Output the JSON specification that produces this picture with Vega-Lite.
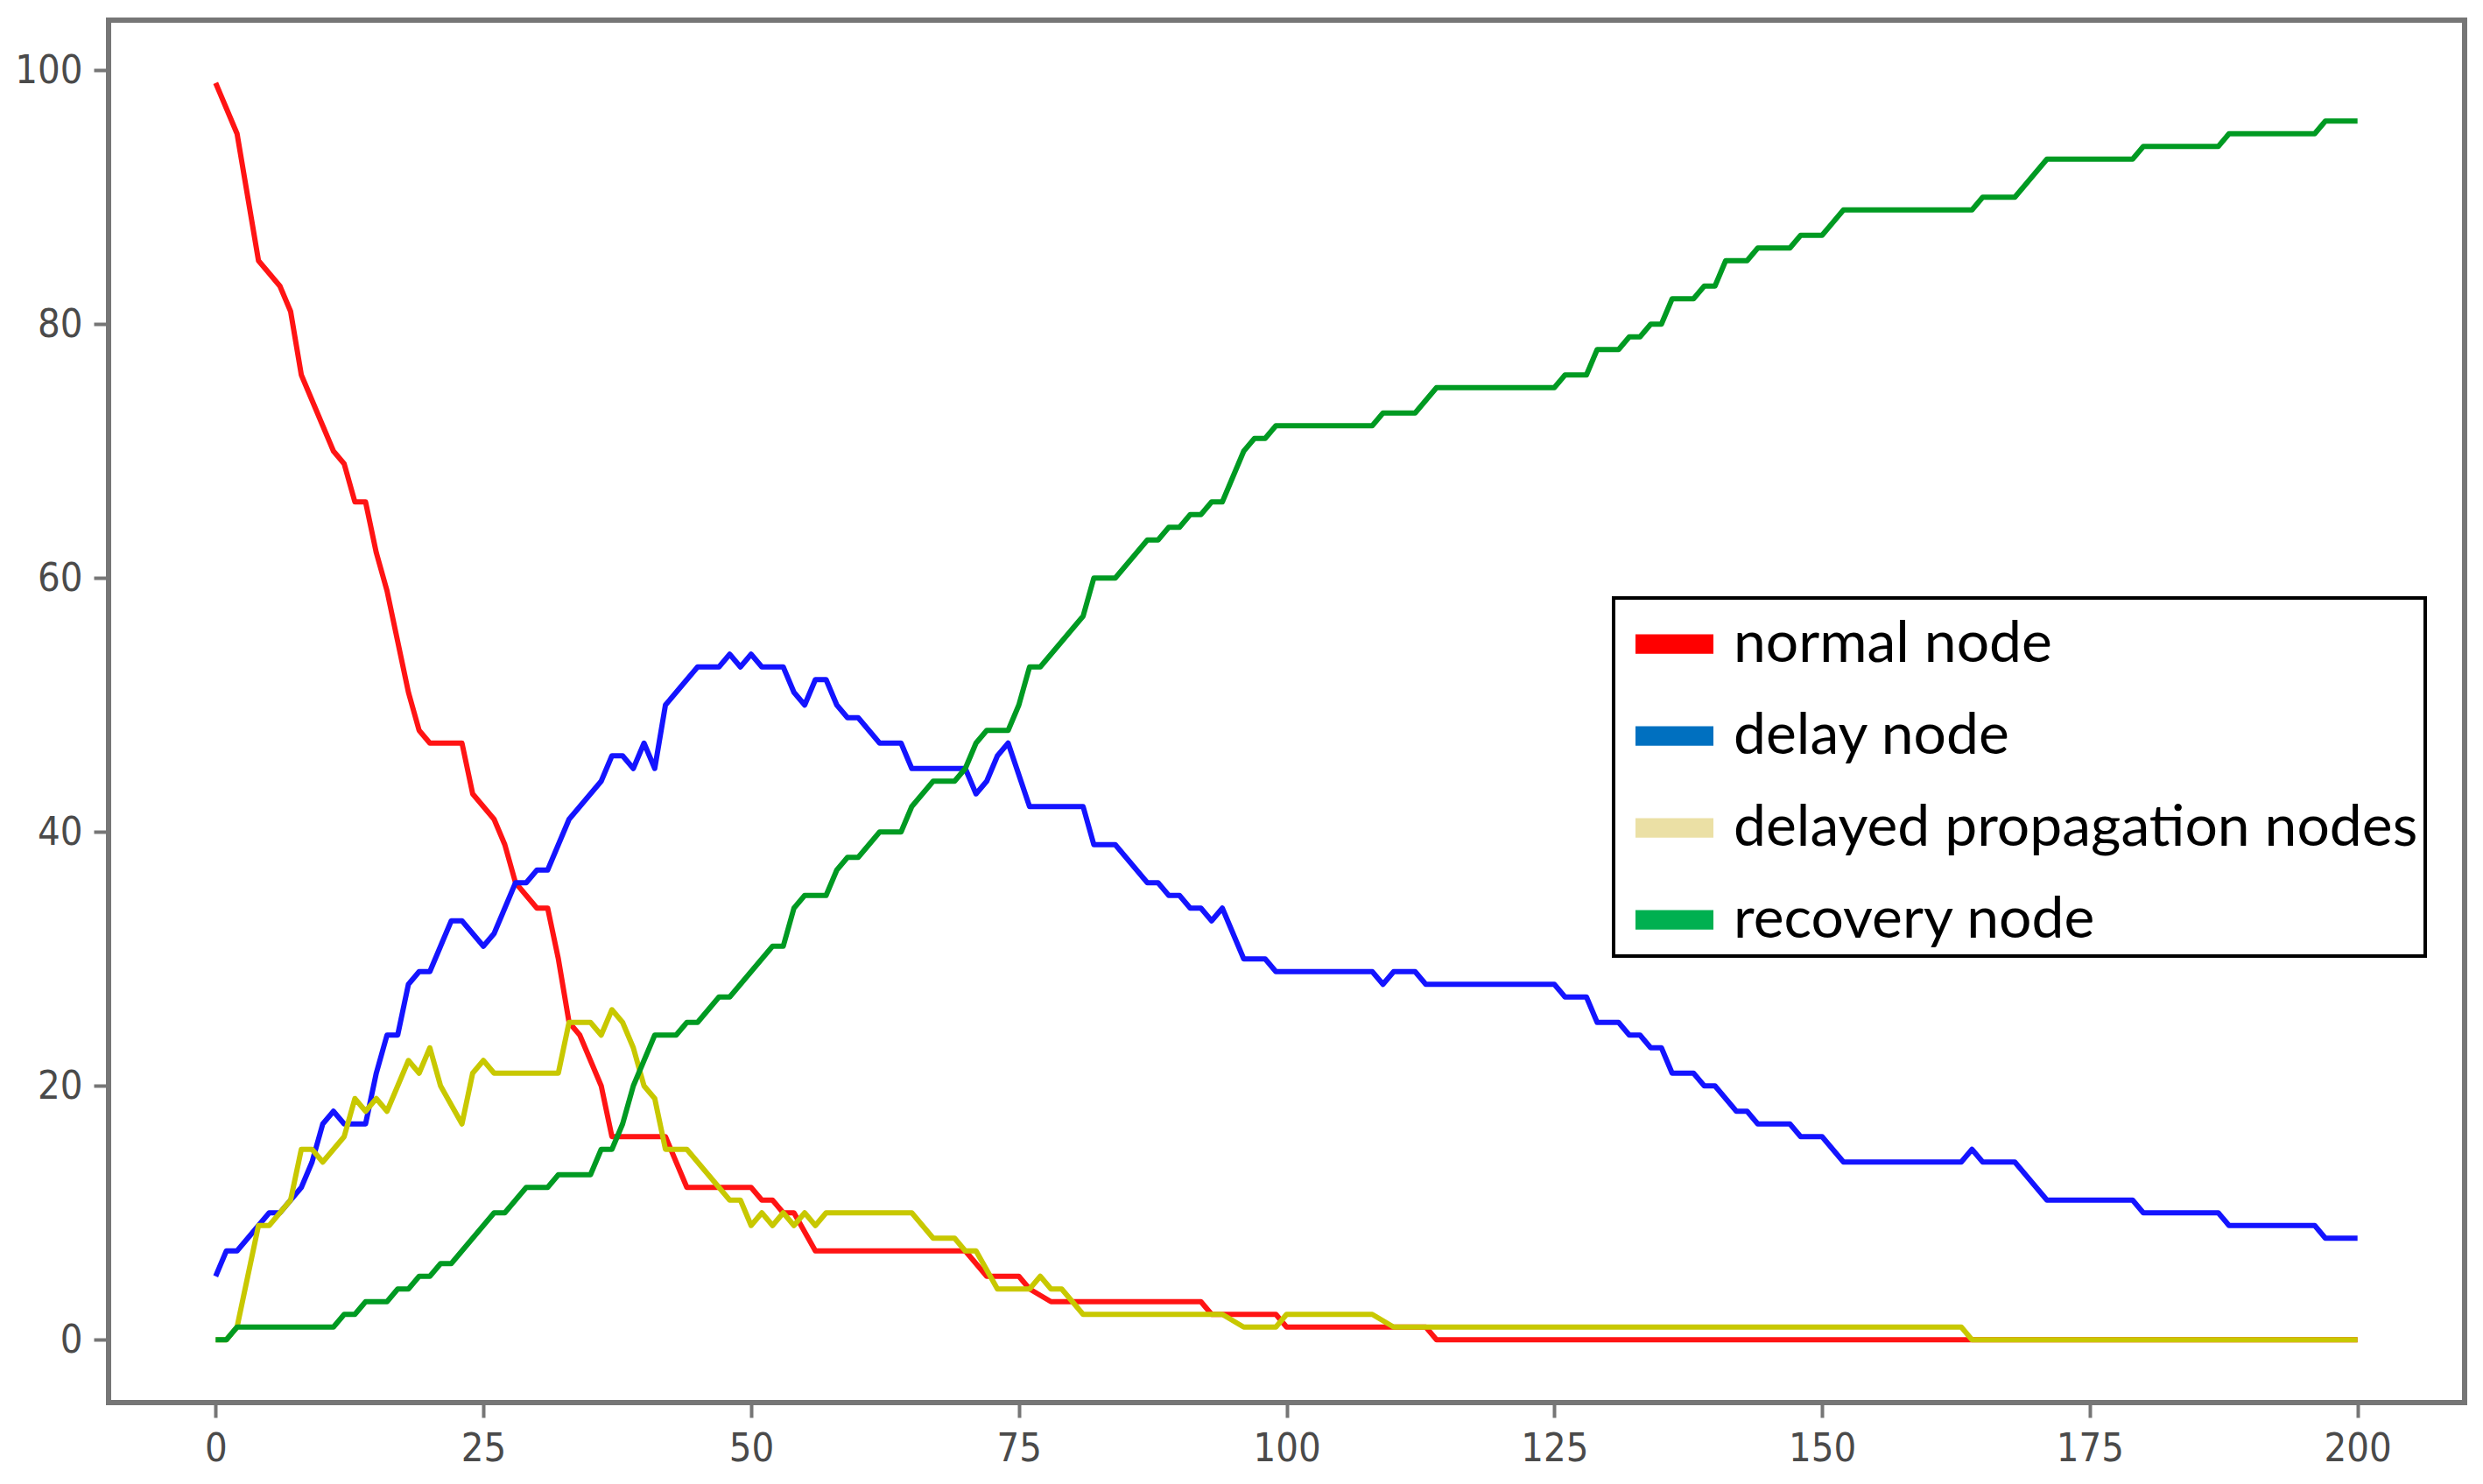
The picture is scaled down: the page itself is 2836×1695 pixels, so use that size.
{
  "$schema": "https://vega.github.io/schema/vega-lite/v6.json",
  "description": "Node states over time: normal, delay, delayed propagation and recovery nodes.",
  "width": 2691,
  "height": 1579,
  "autosize": {"type": "none"},
  "padding": {"left": 124, "top": 23, "right": 21, "bottom": 93},
  "background": "white",
  "config": {
    "view": {"stroke": "#767676", "strokeWidth": 6},
    "axis": {
      "domain": false,
      "grid": false,
      "title": null,
      "tickColor": "#767676",
      "tickWidth": 4,
      "tickSize": 17,
      "labelFont": "Liberation Sans Narrow, DejaVu Sans Condensed, Liberation Sans",
      "labelFontSize": 45,
      "labelColor": "#4a4a4a",
      "labelPadding": 13
    },
    "legend": {"strokeWidth": 4}
  },
  "data": {
    "values": [
      {"s": "normal node", "t": 0, "v": 99}, {"s": "normal node", "t": 1, "v": 97}, {"s": "normal node", "t": 2, "v": 95},
      {"s": "normal node", "t": 4, "v": 85}, {"s": "normal node", "t": 5, "v": 84}, {"s": "normal node", "t": 6, "v": 83},
      {"s": "normal node", "t": 7, "v": 81}, {"s": "normal node", "t": 8, "v": 76}, {"s": "normal node", "t": 9, "v": 74},
      {"s": "normal node", "t": 10, "v": 72}, {"s": "normal node", "t": 11, "v": 70}, {"s": "normal node", "t": 12, "v": 69},
      {"s": "normal node", "t": 13, "v": 66}, {"s": "normal node", "t": 14, "v": 66}, {"s": "normal node", "t": 15, "v": 62},
      {"s": "normal node", "t": 16, "v": 59}, {"s": "normal node", "t": 17, "v": 55}, {"s": "normal node", "t": 18, "v": 51},
      {"s": "normal node", "t": 19, "v": 48}, {"s": "normal node", "t": 20, "v": 47}, {"s": "normal node", "t": 23, "v": 47},
      {"s": "normal node", "t": 24, "v": 43}, {"s": "normal node", "t": 25, "v": 42}, {"s": "normal node", "t": 26, "v": 41},
      {"s": "normal node", "t": 27, "v": 39}, {"s": "normal node", "t": 28, "v": 36}, {"s": "normal node", "t": 29, "v": 35},
      {"s": "normal node", "t": 30, "v": 34}, {"s": "normal node", "t": 31, "v": 34}, {"s": "normal node", "t": 32, "v": 30},
      {"s": "normal node", "t": 33, "v": 25}, {"s": "normal node", "t": 34, "v": 24}, {"s": "normal node", "t": 35, "v": 22},
      {"s": "normal node", "t": 36, "v": 20}, {"s": "normal node", "t": 37, "v": 16}, {"s": "normal node", "t": 42, "v": 16},
      {"s": "normal node", "t": 43, "v": 14}, {"s": "normal node", "t": 44, "v": 12}, {"s": "normal node", "t": 50, "v": 12},
      {"s": "normal node", "t": 51, "v": 11}, {"s": "normal node", "t": 52, "v": 11}, {"s": "normal node", "t": 53, "v": 10},
      {"s": "normal node", "t": 54, "v": 10}, {"s": "normal node", "t": 56, "v": 7}, {"s": "normal node", "t": 70, "v": 7},
      {"s": "normal node", "t": 72, "v": 5}, {"s": "normal node", "t": 75, "v": 5}, {"s": "normal node", "t": 76, "v": 4},
      {"s": "normal node", "t": 78, "v": 3}, {"s": "normal node", "t": 92, "v": 3}, {"s": "normal node", "t": 93, "v": 2},
      {"s": "normal node", "t": 99, "v": 2}, {"s": "normal node", "t": 100, "v": 1}, {"s": "normal node", "t": 113, "v": 1},
      {"s": "normal node", "t": 114, "v": 0}, {"s": "normal node", "t": 200, "v": 0},

      {"s": "delay node", "t": 0, "v": 5}, {"s": "delay node", "t": 1, "v": 7}, {"s": "delay node", "t": 2, "v": 7},
      {"s": "delay node", "t": 3, "v": 8}, {"s": "delay node", "t": 4, "v": 9}, {"s": "delay node", "t": 5, "v": 10},
      {"s": "delay node", "t": 6, "v": 10}, {"s": "delay node", "t": 7, "v": 11}, {"s": "delay node", "t": 8, "v": 12},
      {"s": "delay node", "t": 9, "v": 14}, {"s": "delay node", "t": 10, "v": 17}, {"s": "delay node", "t": 11, "v": 18},
      {"s": "delay node", "t": 12, "v": 17}, {"s": "delay node", "t": 14, "v": 17}, {"s": "delay node", "t": 15, "v": 21},
      {"s": "delay node", "t": 16, "v": 24}, {"s": "delay node", "t": 17, "v": 24}, {"s": "delay node", "t": 18, "v": 28},
      {"s": "delay node", "t": 19, "v": 29}, {"s": "delay node", "t": 20, "v": 29}, {"s": "delay node", "t": 21, "v": 31},
      {"s": "delay node", "t": 22, "v": 33}, {"s": "delay node", "t": 23, "v": 33}, {"s": "delay node", "t": 24, "v": 32},
      {"s": "delay node", "t": 25, "v": 31}, {"s": "delay node", "t": 26, "v": 32}, {"s": "delay node", "t": 27, "v": 34},
      {"s": "delay node", "t": 28, "v": 36}, {"s": "delay node", "t": 29, "v": 36}, {"s": "delay node", "t": 30, "v": 37},
      {"s": "delay node", "t": 31, "v": 37}, {"s": "delay node", "t": 32, "v": 39}, {"s": "delay node", "t": 33, "v": 41},
      {"s": "delay node", "t": 34, "v": 42}, {"s": "delay node", "t": 35, "v": 43}, {"s": "delay node", "t": 36, "v": 44},
      {"s": "delay node", "t": 37, "v": 46}, {"s": "delay node", "t": 38, "v": 46}, {"s": "delay node", "t": 39, "v": 45},
      {"s": "delay node", "t": 40, "v": 47}, {"s": "delay node", "t": 41, "v": 45}, {"s": "delay node", "t": 42, "v": 50},
      {"s": "delay node", "t": 43, "v": 51}, {"s": "delay node", "t": 44, "v": 52}, {"s": "delay node", "t": 45, "v": 53},
      {"s": "delay node", "t": 47, "v": 53}, {"s": "delay node", "t": 48, "v": 54}, {"s": "delay node", "t": 49, "v": 53},
      {"s": "delay node", "t": 50, "v": 54}, {"s": "delay node", "t": 51, "v": 53}, {"s": "delay node", "t": 53, "v": 53},
      {"s": "delay node", "t": 54, "v": 51}, {"s": "delay node", "t": 55, "v": 50}, {"s": "delay node", "t": 56, "v": 52},
      {"s": "delay node", "t": 57, "v": 52}, {"s": "delay node", "t": 58, "v": 50}, {"s": "delay node", "t": 59, "v": 49},
      {"s": "delay node", "t": 60, "v": 49}, {"s": "delay node", "t": 61, "v": 48}, {"s": "delay node", "t": 62, "v": 47},
      {"s": "delay node", "t": 64, "v": 47}, {"s": "delay node", "t": 65, "v": 45}, {"s": "delay node", "t": 70, "v": 45},
      {"s": "delay node", "t": 71, "v": 43}, {"s": "delay node", "t": 72, "v": 44}, {"s": "delay node", "t": 73, "v": 46},
      {"s": "delay node", "t": 74, "v": 47}, {"s": "delay node", "t": 76, "v": 42}, {"s": "delay node", "t": 81, "v": 42},
      {"s": "delay node", "t": 82, "v": 39}, {"s": "delay node", "t": 84, "v": 39}, {"s": "delay node", "t": 85, "v": 38},
      {"s": "delay node", "t": 87, "v": 36}, {"s": "delay node", "t": 88, "v": 36}, {"s": "delay node", "t": 89, "v": 35},
      {"s": "delay node", "t": 90, "v": 35}, {"s": "delay node", "t": 91, "v": 34}, {"s": "delay node", "t": 92, "v": 34},
      {"s": "delay node", "t": 93, "v": 33}, {"s": "delay node", "t": 94, "v": 34}, {"s": "delay node", "t": 96, "v": 30},
      {"s": "delay node", "t": 98, "v": 30}, {"s": "delay node", "t": 99, "v": 29}, {"s": "delay node", "t": 108, "v": 29},
      {"s": "delay node", "t": 109, "v": 28}, {"s": "delay node", "t": 110, "v": 29}, {"s": "delay node", "t": 112, "v": 29},
      {"s": "delay node", "t": 113, "v": 28}, {"s": "delay node", "t": 125, "v": 28}, {"s": "delay node", "t": 126, "v": 27},
      {"s": "delay node", "t": 128, "v": 27}, {"s": "delay node", "t": 129, "v": 25}, {"s": "delay node", "t": 131, "v": 25},
      {"s": "delay node", "t": 132, "v": 24}, {"s": "delay node", "t": 133, "v": 24}, {"s": "delay node", "t": 134, "v": 23},
      {"s": "delay node", "t": 135, "v": 23}, {"s": "delay node", "t": 136, "v": 21}, {"s": "delay node", "t": 138, "v": 21},
      {"s": "delay node", "t": 139, "v": 20}, {"s": "delay node", "t": 140, "v": 20}, {"s": "delay node", "t": 142, "v": 18},
      {"s": "delay node", "t": 143, "v": 18}, {"s": "delay node", "t": 144, "v": 17}, {"s": "delay node", "t": 147, "v": 17},
      {"s": "delay node", "t": 148, "v": 16}, {"s": "delay node", "t": 150, "v": 16}, {"s": "delay node", "t": 152, "v": 14},
      {"s": "delay node", "t": 163, "v": 14}, {"s": "delay node", "t": 164, "v": 15}, {"s": "delay node", "t": 165, "v": 14},
      {"s": "delay node", "t": 168, "v": 14}, {"s": "delay node", "t": 171, "v": 11}, {"s": "delay node", "t": 179, "v": 11},
      {"s": "delay node", "t": 180, "v": 10}, {"s": "delay node", "t": 187, "v": 10}, {"s": "delay node", "t": 188, "v": 9},
      {"s": "delay node", "t": 196, "v": 9}, {"s": "delay node", "t": 197, "v": 8}, {"s": "delay node", "t": 200, "v": 8},

      {"s": "delayed propagation nodes", "t": 0, "v": 0}, {"s": "delayed propagation nodes", "t": 1, "v": 0},
      {"s": "delayed propagation nodes", "t": 2, "v": 1}, {"s": "delayed propagation nodes", "t": 4, "v": 9},
      {"s": "delayed propagation nodes", "t": 5, "v": 9}, {"s": "delayed propagation nodes", "t": 6, "v": 10},
      {"s": "delayed propagation nodes", "t": 7, "v": 11}, {"s": "delayed propagation nodes", "t": 8, "v": 15},
      {"s": "delayed propagation nodes", "t": 9, "v": 15}, {"s": "delayed propagation nodes", "t": 10, "v": 14},
      {"s": "delayed propagation nodes", "t": 11, "v": 15}, {"s": "delayed propagation nodes", "t": 12, "v": 16},
      {"s": "delayed propagation nodes", "t": 13, "v": 19}, {"s": "delayed propagation nodes", "t": 14, "v": 18},
      {"s": "delayed propagation nodes", "t": 15, "v": 19}, {"s": "delayed propagation nodes", "t": 16, "v": 18},
      {"s": "delayed propagation nodes", "t": 18, "v": 22}, {"s": "delayed propagation nodes", "t": 19, "v": 21},
      {"s": "delayed propagation nodes", "t": 20, "v": 23}, {"s": "delayed propagation nodes", "t": 21, "v": 20},
      {"s": "delayed propagation nodes", "t": 23, "v": 17}, {"s": "delayed propagation nodes", "t": 24, "v": 21},
      {"s": "delayed propagation nodes", "t": 25, "v": 22}, {"s": "delayed propagation nodes", "t": 26, "v": 21},
      {"s": "delayed propagation nodes", "t": 32, "v": 21}, {"s": "delayed propagation nodes", "t": 33, "v": 25},
      {"s": "delayed propagation nodes", "t": 35, "v": 25}, {"s": "delayed propagation nodes", "t": 36, "v": 24},
      {"s": "delayed propagation nodes", "t": 37, "v": 26}, {"s": "delayed propagation nodes", "t": 38, "v": 25},
      {"s": "delayed propagation nodes", "t": 39, "v": 23}, {"s": "delayed propagation nodes", "t": 40, "v": 20},
      {"s": "delayed propagation nodes", "t": 41, "v": 19}, {"s": "delayed propagation nodes", "t": 42, "v": 15},
      {"s": "delayed propagation nodes", "t": 44, "v": 15}, {"s": "delayed propagation nodes", "t": 45, "v": 14},
      {"s": "delayed propagation nodes", "t": 46, "v": 13}, {"s": "delayed propagation nodes", "t": 47, "v": 12},
      {"s": "delayed propagation nodes", "t": 48, "v": 11}, {"s": "delayed propagation nodes", "t": 49, "v": 11},
      {"s": "delayed propagation nodes", "t": 50, "v": 9}, {"s": "delayed propagation nodes", "t": 51, "v": 10},
      {"s": "delayed propagation nodes", "t": 52, "v": 9}, {"s": "delayed propagation nodes", "t": 53, "v": 10},
      {"s": "delayed propagation nodes", "t": 54, "v": 9}, {"s": "delayed propagation nodes", "t": 55, "v": 10},
      {"s": "delayed propagation nodes", "t": 56, "v": 9}, {"s": "delayed propagation nodes", "t": 57, "v": 10},
      {"s": "delayed propagation nodes", "t": 65, "v": 10}, {"s": "delayed propagation nodes", "t": 67, "v": 8},
      {"s": "delayed propagation nodes", "t": 69, "v": 8}, {"s": "delayed propagation nodes", "t": 70, "v": 7},
      {"s": "delayed propagation nodes", "t": 71, "v": 7}, {"s": "delayed propagation nodes", "t": 73, "v": 4},
      {"s": "delayed propagation nodes", "t": 76, "v": 4}, {"s": "delayed propagation nodes", "t": 77, "v": 5},
      {"s": "delayed propagation nodes", "t": 78, "v": 4}, {"s": "delayed propagation nodes", "t": 79, "v": 4},
      {"s": "delayed propagation nodes", "t": 81, "v": 2}, {"s": "delayed propagation nodes", "t": 94, "v": 2},
      {"s": "delayed propagation nodes", "t": 96, "v": 1}, {"s": "delayed propagation nodes", "t": 99, "v": 1},
      {"s": "delayed propagation nodes", "t": 100, "v": 2}, {"s": "delayed propagation nodes", "t": 108, "v": 2},
      {"s": "delayed propagation nodes", "t": 110, "v": 1}, {"s": "delayed propagation nodes", "t": 163, "v": 1},
      {"s": "delayed propagation nodes", "t": 164, "v": 0}, {"s": "delayed propagation nodes", "t": 200, "v": 0},

      {"s": "recovery node", "t": 0, "v": 0}, {"s": "recovery node", "t": 1, "v": 0}, {"s": "recovery node", "t": 2, "v": 1},
      {"s": "recovery node", "t": 11, "v": 1}, {"s": "recovery node", "t": 12, "v": 2}, {"s": "recovery node", "t": 13, "v": 2},
      {"s": "recovery node", "t": 14, "v": 3}, {"s": "recovery node", "t": 16, "v": 3}, {"s": "recovery node", "t": 17, "v": 4},
      {"s": "recovery node", "t": 18, "v": 4}, {"s": "recovery node", "t": 19, "v": 5}, {"s": "recovery node", "t": 20, "v": 5},
      {"s": "recovery node", "t": 21, "v": 6}, {"s": "recovery node", "t": 22, "v": 6}, {"s": "recovery node", "t": 23, "v": 7},
      {"s": "recovery node", "t": 24, "v": 8}, {"s": "recovery node", "t": 25, "v": 9}, {"s": "recovery node", "t": 26, "v": 10},
      {"s": "recovery node", "t": 27, "v": 10}, {"s": "recovery node", "t": 28, "v": 11}, {"s": "recovery node", "t": 29, "v": 12},
      {"s": "recovery node", "t": 31, "v": 12}, {"s": "recovery node", "t": 32, "v": 13}, {"s": "recovery node", "t": 35, "v": 13},
      {"s": "recovery node", "t": 36, "v": 15}, {"s": "recovery node", "t": 37, "v": 15}, {"s": "recovery node", "t": 38, "v": 17},
      {"s": "recovery node", "t": 39, "v": 20}, {"s": "recovery node", "t": 40, "v": 22}, {"s": "recovery node", "t": 41, "v": 24},
      {"s": "recovery node", "t": 43, "v": 24}, {"s": "recovery node", "t": 44, "v": 25}, {"s": "recovery node", "t": 45, "v": 25},
      {"s": "recovery node", "t": 46, "v": 26}, {"s": "recovery node", "t": 47, "v": 27}, {"s": "recovery node", "t": 48, "v": 27},
      {"s": "recovery node", "t": 49, "v": 28}, {"s": "recovery node", "t": 50, "v": 29}, {"s": "recovery node", "t": 51, "v": 30},
      {"s": "recovery node", "t": 52, "v": 31}, {"s": "recovery node", "t": 53, "v": 31}, {"s": "recovery node", "t": 54, "v": 34},
      {"s": "recovery node", "t": 55, "v": 35}, {"s": "recovery node", "t": 57, "v": 35}, {"s": "recovery node", "t": 58, "v": 37},
      {"s": "recovery node", "t": 59, "v": 38}, {"s": "recovery node", "t": 60, "v": 38}, {"s": "recovery node", "t": 61, "v": 39},
      {"s": "recovery node", "t": 62, "v": 40}, {"s": "recovery node", "t": 64, "v": 40}, {"s": "recovery node", "t": 65, "v": 42},
      {"s": "recovery node", "t": 66, "v": 43}, {"s": "recovery node", "t": 67, "v": 44}, {"s": "recovery node", "t": 69, "v": 44},
      {"s": "recovery node", "t": 70, "v": 45}, {"s": "recovery node", "t": 71, "v": 47}, {"s": "recovery node", "t": 72, "v": 48},
      {"s": "recovery node", "t": 74, "v": 48}, {"s": "recovery node", "t": 75, "v": 50}, {"s": "recovery node", "t": 76, "v": 53},
      {"s": "recovery node", "t": 77, "v": 53}, {"s": "recovery node", "t": 78, "v": 54}, {"s": "recovery node", "t": 79, "v": 55},
      {"s": "recovery node", "t": 80, "v": 56}, {"s": "recovery node", "t": 81, "v": 57}, {"s": "recovery node", "t": 82, "v": 60},
      {"s": "recovery node", "t": 84, "v": 60}, {"s": "recovery node", "t": 85, "v": 61}, {"s": "recovery node", "t": 86, "v": 62},
      {"s": "recovery node", "t": 87, "v": 63}, {"s": "recovery node", "t": 88, "v": 63}, {"s": "recovery node", "t": 89, "v": 64},
      {"s": "recovery node", "t": 90, "v": 64}, {"s": "recovery node", "t": 91, "v": 65}, {"s": "recovery node", "t": 92, "v": 65},
      {"s": "recovery node", "t": 93, "v": 66}, {"s": "recovery node", "t": 94, "v": 66}, {"s": "recovery node", "t": 95, "v": 68},
      {"s": "recovery node", "t": 96, "v": 70}, {"s": "recovery node", "t": 97, "v": 71}, {"s": "recovery node", "t": 98, "v": 71},
      {"s": "recovery node", "t": 99, "v": 72}, {"s": "recovery node", "t": 108, "v": 72}, {"s": "recovery node", "t": 109, "v": 73},
      {"s": "recovery node", "t": 112, "v": 73}, {"s": "recovery node", "t": 114, "v": 75}, {"s": "recovery node", "t": 125, "v": 75},
      {"s": "recovery node", "t": 126, "v": 76}, {"s": "recovery node", "t": 128, "v": 76}, {"s": "recovery node", "t": 129, "v": 78},
      {"s": "recovery node", "t": 131, "v": 78}, {"s": "recovery node", "t": 132, "v": 79}, {"s": "recovery node", "t": 133, "v": 79},
      {"s": "recovery node", "t": 134, "v": 80}, {"s": "recovery node", "t": 135, "v": 80}, {"s": "recovery node", "t": 136, "v": 82},
      {"s": "recovery node", "t": 138, "v": 82}, {"s": "recovery node", "t": 139, "v": 83}, {"s": "recovery node", "t": 140, "v": 83},
      {"s": "recovery node", "t": 141, "v": 85}, {"s": "recovery node", "t": 143, "v": 85}, {"s": "recovery node", "t": 144, "v": 86},
      {"s": "recovery node", "t": 147, "v": 86}, {"s": "recovery node", "t": 148, "v": 87}, {"s": "recovery node", "t": 150, "v": 87},
      {"s": "recovery node", "t": 152, "v": 89}, {"s": "recovery node", "t": 164, "v": 89}, {"s": "recovery node", "t": 165, "v": 90},
      {"s": "recovery node", "t": 168, "v": 90}, {"s": "recovery node", "t": 171, "v": 93}, {"s": "recovery node", "t": 179, "v": 93},
      {"s": "recovery node", "t": 180, "v": 94}, {"s": "recovery node", "t": 187, "v": 94}, {"s": "recovery node", "t": 188, "v": 95},
      {"s": "recovery node", "t": 196, "v": 95}, {"s": "recovery node", "t": 197, "v": 96}, {"s": "recovery node", "t": 200, "v": 96}
    ]
  },
  "encoding": {
    "x": {
      "field": "t",
      "type": "quantitative",
      "scale": {"domain": [-10, 210], "nice": false, "zero": false},
      "axis": {"values": [0, 25, 50, 75, 100, 125, 150, 175, 200]}
    },
    "y": {
      "field": "v",
      "type": "quantitative",
      "scale": {"domain": [-4.95, 103.95], "nice": false, "zero": false},
      "axis": {"values": [0, 20, 40, 60, 80, 100]}
    }
  },
  "layer": [
    {
      "mark": {"type": "line", "strokeWidth": 6, "strokeJoin": "round", "clip": true},
      "encoding": {
        "color": {
          "field": "s",
          "type": "nominal",
          "scale": {"range": ["#1414ff", "#c8c800", "#ff1414", "#009a22"]},
          "legend": null
        }
      }
    },
    {
      "mark": {"type": "point", "filled": true, "opacity": 0, "size": 1},
      "encoding": {
        "fill": {
          "field": "s",
          "type": "nominal",
          "scale": {
            "domain": ["normal node", "delay node", "delayed propagation nodes", "recovery node"],
            "range": ["#ff0000", "#0070c0", "#ebe0a5", "#00b050"]
          },
          "legend": {
            "title": null,
            "orient": "none",
            "legendX": 1719,
            "legendY": 660,
            "direction": "vertical",
            "strokeColor": "black",
            "fillColor": "white",
            "padding": 8,
            "rowPadding": 27,
            "symbolType": "M-1,-0.25H1V0.25H-1Z",
            "symbolSize": 7921,
            "symbolOpacity": 1,
            "symbolStrokeWidth": 0,
            "symbolOffset": 17,
            "labelOffset": 23,
            "labelFont": "Lato",
            "labelFontSize": 66,
            "labelColor": "black",
            "labelLimit": 1200
          }
        }
      }
    }
  ]
}
